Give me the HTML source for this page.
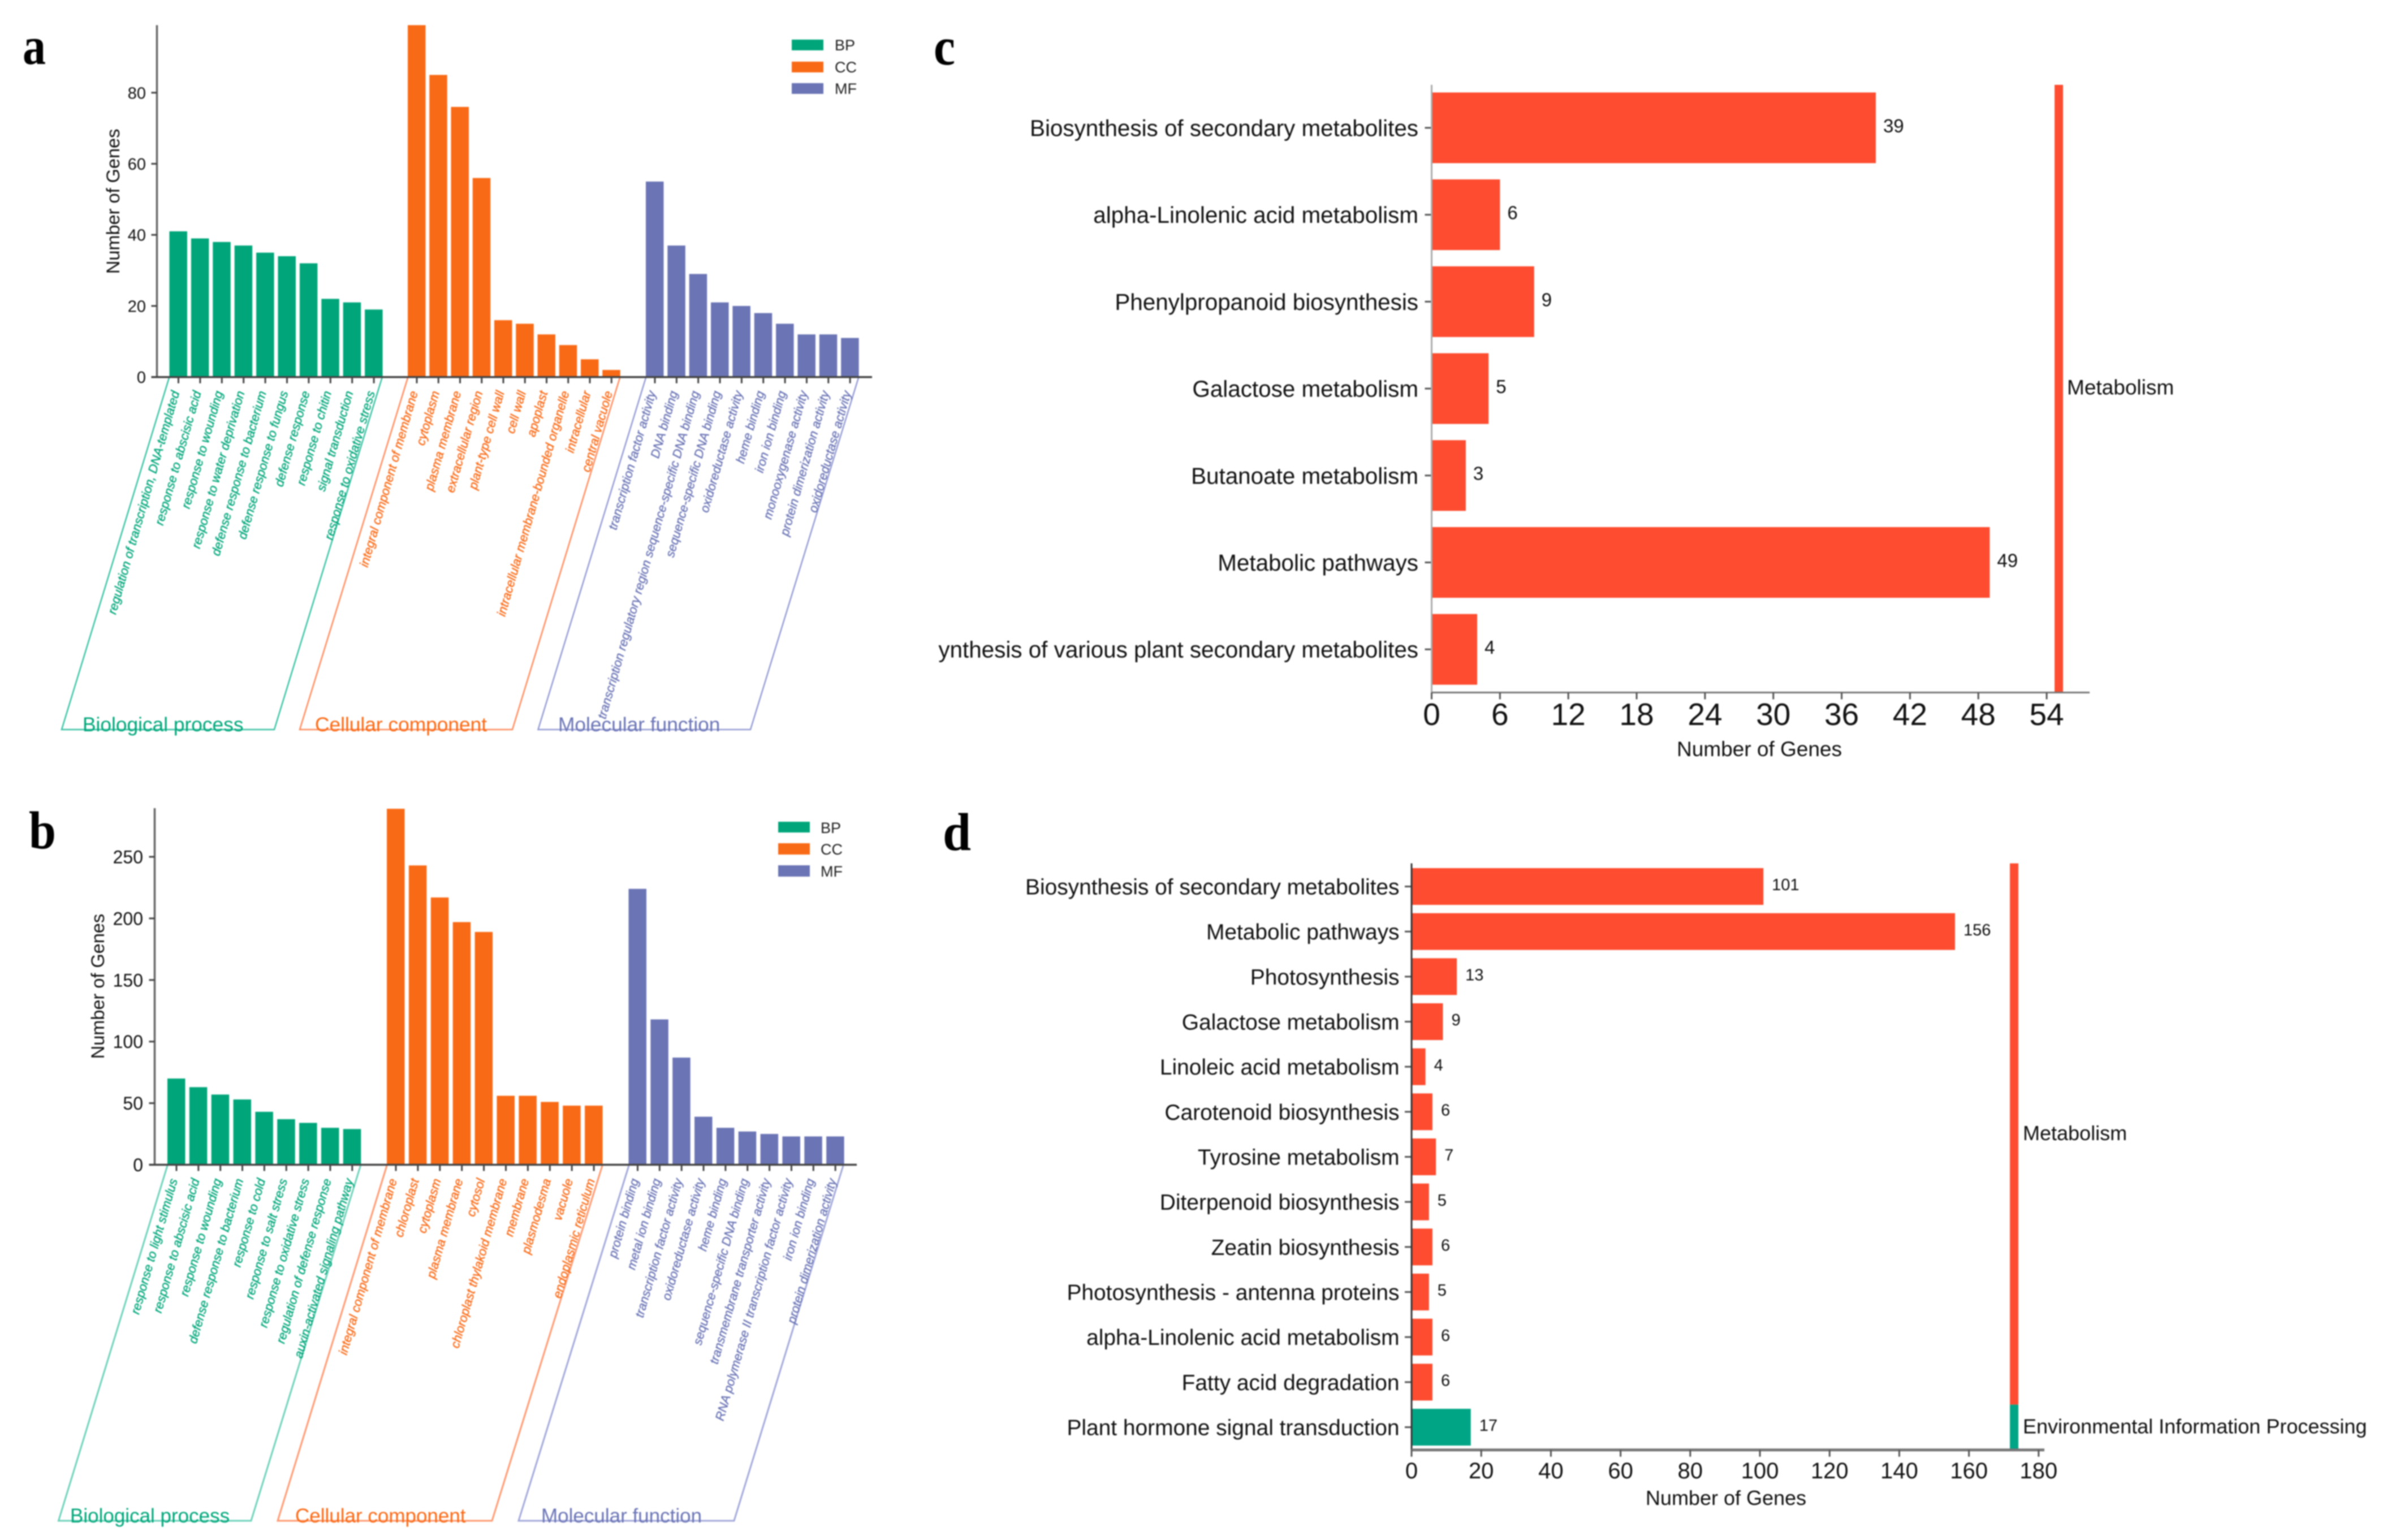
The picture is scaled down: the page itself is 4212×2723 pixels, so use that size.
<!DOCTYPE html>
<html lang="en">
<head>
<meta charset="utf-8">
<title>GO and KEGG enrichment charts</title>
<style>
html,body{margin:0;padding:0;background:#fff;}
svg{display:block;font-family:"Liberation Sans",Arial,sans-serif;filter:blur(1.1px);}
.letter{font-family:"Liberation Serif",serif;font-weight:bold;fill:#000;}
</style>
</head>
<body>
<svg id="figure" xmlns="http://www.w3.org/2000/svg" width="4212" height="2723" viewBox="0 0 4212 2723">
<rect x="0" y="0" width="4212" height="2723" fill="#fff"/>

<text class="letter" x="40" y="113" font-size="94" textLength="41" lengthAdjust="spacingAndGlyphs">a</text>
<text class="letter" x="51" y="1500" font-size="94" textLength="48" lengthAdjust="spacingAndGlyphs">b</text>
<text class="letter" x="1651" y="114" font-size="94" textLength="38" lengthAdjust="spacingAndGlyphs">c</text>
<text class="letter" x="1667" y="1503" font-size="94" textLength="50" lengthAdjust="spacingAndGlyphs">d</text>

<g id="panel-a">
  <text transform="translate(211,356) rotate(-90)" text-anchor="middle" font-size="32.5" fill="#111">Number of Genes</text>
  <g>
    <rect x="1400" y="70" width="56" height="19" fill="#00a67a"/>
    <text x="1476" y="89" font-size="27" fill="#222">BP</text>
    <rect x="1400" y="109" width="56" height="19" fill="#f96a16"/>
    <text x="1476" y="128" font-size="27" fill="#222">CC</text>
    <rect x="1400" y="147" width="56" height="19" fill="#6b75b5"/>
    <text x="1476" y="166" font-size="27" fill="#222">MF</text>
  </g>
  <path d="M299 668 L109 1290 H485 L675.5 668" fill="none" stroke="#3cc3a5" stroke-width="2.5"/>
  <path d="M721 668 L530 1290 H906 L1096 668" fill="none" stroke="#ff8c5e" stroke-width="2.5"/>
  <path d="M1142 668 L951.5 1290 H1327 L1518 668" fill="none" stroke="#959cd4" stroke-width="2.5"/>
  <text x="146" y="1293" font-size="35.3" fill="#00a67a">Biological process</text>
  <text x="557" y="1293" font-size="35.3" fill="#f96a16">Cellular component</text>
  <text x="987" y="1293" font-size="35.3" fill="#6b75b5">Molecular function</text>
</g>

<g id="panel-b">
  <text transform="translate(184,1744) rotate(-90)" text-anchor="middle" font-size="32.5" fill="#111">Number of Genes</text>
  <g>
    <rect x="1376" y="1453" width="56" height="19" fill="#00a67a"/>
    <text x="1451" y="1473" font-size="27" fill="#222">BP</text>
    <rect x="1376" y="1491" width="56" height="20" fill="#f96a16"/>
    <text x="1451" y="1511" font-size="27" fill="#222">CC</text>
    <rect x="1376" y="1530" width="56" height="20" fill="#6b75b5"/>
    <text x="1451" y="1550" font-size="27" fill="#222">MF</text>
  </g>
  <path d="M296 2061 L103.5 2689 H444 L637.5 2061" fill="none" stroke="#6fd2bb" stroke-width="3"/>
  <path d="M684 2061 L491 2689 H870 L1065 2061" fill="none" stroke="#ff9a72" stroke-width="3"/>
  <path d="M1112 2061 L917 2689 H1298 L1491 2061" fill="none" stroke="#a3a9da" stroke-width="3"/>
  <text x="124" y="2692" font-size="35" fill="#00a67a">Biological process</text>
  <text x="522" y="2692" font-size="35" fill="#f96a16">Cellular component</text>
  <text x="957" y="2692" font-size="35" fill="#6b75b5">Molecular function</text>
</g>

<g id="panel-c">
  <text x="3111" y="1337" text-anchor="middle" font-size="37" fill="#111">Number of Genes</text>
</g>
<g id="panel-d">
  <text x="3052" y="2661" text-anchor="middle" font-size="36" fill="#111">Number of Genes</text>
</g>

<script>
// ---------- panel a data ----------
const aBPLabels = ["regulation of transcription, DNA-templated","response to abscisic acid","response to wounding","response to water deprivation","defense response to bacterium","defense response to fungus","defense response","response to chitin","signal transduction","response to oxidative stress"];
const aBPValues = [41,39,38,37,35,34,32,22,21,19];
const aCCLabels = ["integral component of membrane","cytoplasm","plasma membrane","extracellular region","plant-type cell wall","cell wall","apoplast","intracellular membrane-bounded organelle","intracellular","central vacuole"];
const aCCValues = [99,85,76,56,16,15,12,9,5,2];
const aMFLabels = ["transcription factor activity","DNA binding","transcription regulatory region sequence-specific DNA binding","sequence-specific DNA binding","oxidoreductase activity","heme binding","iron ion binding","monooxygenase activity","protein dimerization activity","oxidoreductase activity"];
const aMFValues = [55,37,29,21,20,18,15,12,12,11];
const aYTicks = [0,20,40,60,80];

// ---------- panel b data ----------
const bBPLabels = ["response to light stimulus","response to abscisic acid","response to wounding","defense response to bacterium","response to cold","response to salt stress","response to oxidative stress","regulation of defense response","auxin-activated signaling pathway"];
const bBPValues = [70,63,57,53,43,37,34,30,29];
const bCCLabels = ["integral component of membrane","chloroplast","cytoplasm","plasma membrane","cytosol","chloroplast thylakoid membrane","membrane","plasmodesma","vacuole","endoplasmic reticulum"];
const bCCValues = [289,243,217,197,189,56,56,51,48,48];
const bMFLabels = ["protein binding","metal ion binding","transcription factor activity","oxidoreductase activity","heme binding","sequence-specific DNA binding","transmembrane transporter activity","RNA polymerase II transcription factor activity","iron ion binding","protein dimerization activity"];
const bMFValues = [224,118,87,39,30,27,25,23,23,23];
const bYTicks = [0,50,100,150,200,250];

// ---------- panel c data ----------
const cCategories = ["Biosynthesis of secondary metabolites","alpha-Linolenic acid metabolism","Phenylpropanoid biosynthesis","Galactose metabolism","Butanoate metabolism","Metabolic pathways","ynthesis of various plant secondary metabolites"];
const cValues = [39,6,9,5,3,49,4];
const cGroups = ["Metabolism","Metabolism","Metabolism","Metabolism","Metabolism","Metabolism","Metabolism"];
const cXTicks = [0,6,12,18,24,30,36,42,48,54];

// ---------- panel d data ----------
const dCategories = ["Biosynthesis of secondary metabolites","Metabolic pathways","Photosynthesis","Galactose metabolism","Linoleic acid metabolism","Carotenoid biosynthesis","Tyrosine metabolism","Diterpenoid biosynthesis","Zeatin biosynthesis","Photosynthesis - antenna proteins","alpha-Linolenic acid metabolism","Fatty acid degradation","Plant hormone signal transduction"];
const dValues = [101,156,13,9,4,6,7,5,6,5,6,6,17];
const dGroups = ["Metabolism","Metabolism","Metabolism","Metabolism","Metabolism","Metabolism","Metabolism","Metabolism","Metabolism","Metabolism","Metabolism","Metabolism","Environmental Information Processing"];
const dXTicks = [0,20,40,60,80,100,120,140,160,180];

const NS = "http://www.w3.org/2000/svg";
const GROUP_COLORS = {"Metabolism":"#fd4c30","Environmental Information Processing":"#00a585"};

function slug(s){
  return String(s).toLowerCase().replace(/[^a-z0-9]+/g,"-").replace(/^-|-$/g,"");
}
function mk(parent, tag, attrs, text){
  const el = document.createElementNS(NS, tag);
  for (const k in attrs) el.setAttribute(k, attrs[k]);
  if (text !== undefined) el.textContent = text;
  parent.appendChild(el);
  return el;
}

function drawColumnPanel(id, axisX, axisTop, base, unit, axisEnd, yLabelRight, yFont, yTicks, groups){
  const parent = document.getElementById(id);
  const yScale = function(v){ return base - v * unit; };

  const yAxis = mk(parent, "line", {x1:axisX, x2:axisX, y1:axisTop, y2:base, stroke:"#666", "stroke-width":3.5});
  
  

  yTicks.forEach(function(t){
    const tick = mk(parent, "line", {x1:axisX-10, x2:axisX, y1:yScale(t), y2:yScale(t), stroke:"#444", "stroke-width":3});
    
    
    const lab = mk(parent, "text", {x:yLabelRight, y:yScale(t)+yFont*0.36, "text-anchor":"end", "font-size":yFont, fill:"#111"}, String(t));
    
    
  });

  groups.forEach(function(g){
    g.values.forEach(function(v, i){
      const x = g.start + i * g.pitch;
      const bar = mk(parent, "rect", {x:x, y:yScale(v), width:31.5, height:base - yScale(v), fill:g.color});
      
      

      const cx = x + 16;
      const tick = mk(parent, "line", {x1:cx, x2:cx, y1:base, y2:base+11, stroke:"#444", "stroke-width":3});
      
      

      const ax = cx + 2, ay = base + 27;
      const lab = mk(parent, "text", {x:0, y:0, "text-anchor":"end", "font-size":22, "font-style":"italic", fill:g.color, stroke:g.color, "stroke-width":0.4, transform:"translate(" + ax + "," + ay + ") rotate(-74)"}, g.labels[i]);
      
      
    });
  });

  const xAxis = mk(parent, "line", {x1:axisX-10, x2:axisEnd, y1:base, y2:base, stroke:"#444", "stroke-width":3.5});
  
  
}

function drawBarPanel(id, o){
  const parent = document.getElementById(id);
  const xScale = function(v){ return o.axisX + v * o.unit; };
  const bandTop = function(i){ return o.firstTop + i * o.pitch; };

  o.categories.forEach(function(c, i){
    const y = bandTop(i);
    const color = GROUP_COLORS[o.groups[i]];
    const bar = mk(parent, "rect", {x:o.axisX, y:y, width:xScale(o.values[i]) - o.axisX, height:o.barH, fill:color});
    
    

    const mid = y + o.barH / 2;
    const tick = mk(parent, "line", {x1:o.axisX-12, x2:o.axisX, y1:mid, y2:mid, stroke:"#555", "stroke-width":3});
    
    

    const lab = mk(parent, "text", {x:o.labelRight, y:mid + o.catFont*0.36, "text-anchor":"end", "font-size":o.catFont, fill:"#111"}, c);
    
    

    const val = mk(parent, "text", {x:xScale(o.values[i]) + o.valGap, y:mid + o.valFont*0.3 + o.valDy, "font-size":o.valFont, fill:"#111"}, String(o.values[i]));
    
    
  });

  // group stripe segments derived from the category groups
  let start = 0;
  for (let i = 1; i <= o.groups.length; i++){
    if (i === o.groups.length || o.groups[i] !== o.groups[start]){
      const y1 = start === 0 ? o.axisTop : bandTop(start) - (o.pitch - o.barH) / 2;
      const y2 = i === o.groups.length ? o.base : bandTop(i) - (o.pitch - o.barH) / 2;
      const seg = mk(parent, "rect", {x:o.stripeX, y:y1, width:o.stripeW, height:y2 - y1, fill:GROUP_COLORS[o.groups[start]]});
      
      
      const lab = mk(parent, "text", {x:o.stripeX + o.stripeW + o.groupGap, y:(y1 + y2)/2 + o.groupFont*0.36 + o.groupDy, "font-size":o.groupFont, fill:"#111"}, o.groups[start]);
      
      
      start = i;
    }
  }

  const yAxis = mk(parent, "line", {x1:o.axisX, x2:o.axisX, y1:o.axisTop, y2:o.base, stroke:o.yAxisColor, "stroke-width":3});
  
  

  const xAxis = mk(parent, "line", {x1:o.axisX, x2:o.axisEnd, y1:o.base, y2:o.base, stroke:"#777", "stroke-width":o.xAxisW});
  
  

  o.xTicks.forEach(function(t){
    const tick = mk(parent, "line", {x1:xScale(t), x2:xScale(t), y1:o.base, y2:o.base+12, stroke:"#555", "stroke-width":3});
    
    
    const lab = mk(parent, "text", {x:xScale(t), y:o.tickLabelY, "text-anchor":"middle", "font-size":o.tickFont, fill:"#111"}, String(t));
    
    
  });
}

drawColumnPanel("panel-a", 277.5, 44.5, 666.7, 6.285, 1542, 258, 29, aYTicks, [
  {values:aBPValues, labels:aBPLabels, color:"#00a67a", start:299.5, pitch:38.4},
  {values:aCCValues, labels:aCCLabels, color:"#f96a16", start:721, pitch:38.25},
  {values:aMFValues, labels:aMFLabels, color:"#6b75b5", start:1142, pitch:38.35}
]);

drawColumnPanel("panel-b", 273.5, 1429, 2059.5, 2.178, 1515, 253, 32, bYTicks, [
  {values:bBPValues, labels:bBPLabels, color:"#00a67a", start:296, pitch:38.85},
  {values:bCCValues, labels:bCCLabels, color:"#f96a16", start:684, pitch:38.9},
  {values:bMFValues, labels:bMFLabels, color:"#6b75b5", start:1111.5, pitch:38.85}
]);

drawBarPanel("panel-c", {
  categories:cCategories, values:cValues, groups:cGroups, xTicks:cXTicks,
  axisX:2531.5, unit:20.14, axisTop:150, base:1224.5, axisEnd:3695,
  firstTop:163.5, pitch:153.7, barH:125,
  labelRight:2508, catFont:40.4, valFont:33, valGap:13, valDy:-2,
  stripeX:3633, stripeW:15, groupGap:7, groupFont:37, groupDy:-3,
  tickFont:55, tickLabelY:1282, yAxisColor:"#aaa", xAxisW:3
});

drawBarPanel("panel-d", {
  categories:dCategories, values:dValues, groups:dGroups, xTicks:dXTicks,
  axisX:2496, unit:6.16, axisTop:1526.6, base:2563.7, axisEnd:3615,
  firstTop:1535, pitch:79.67, barH:65,
  labelRight:2474.5, catFont:38.9, valFont:29, valGap:15, valDy:-2,
  stripeX:3554, stripeW:15, groupGap:8, groupFont:36, groupDy:-2,
  tickFont:40, tickLabelY:2614, yAxisColor:"#333", xAxisW:5
});
</script>
</svg>
</body>
</html>
